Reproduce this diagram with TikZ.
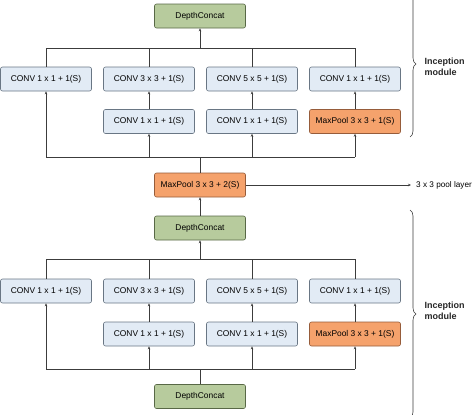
\documentclass[tikz,border=0pt]{standalone}
\usepackage{fontspec}
\setmainfont{Liberation Sans}
\usetikzlibrary{arrows.meta,decorations.pathreplacing}
\definecolor{convfill}{RGB}{226,235,245}
\definecolor{convdraw}{RGB}{105,118,132}
\definecolor{dcfill}{RGB}{183,203,157}
\definecolor{dcdraw}{RGB}{88,104,70}
\definecolor{mpfill}{RGB}{245,162,108}
\definecolor{mpdraw}{RGB}{150,92,58}
\definecolor{ln}{RGB}{60,60,60}
\tikzset{
  box/.style={rounded corners=2pt, minimum width=91pt, minimum height=24pt, inner sep=0pt, font=\fontsize{8.4}{10}\selectfont, line width=0.6pt},
  conv/.style={box, fill=convfill, draw=convdraw},
  dc/.style={box, fill=dcfill, draw=dcdraw},
  mp/.style={box, fill=mpfill, draw=mpdraw},
  wire/.style={draw=ln, line width=0.6pt},
  arr/.style={wire, -{Stealth[length=3pt,width=2.5pt]}},
  lbl/.style={font=\fontsize{9}{11}\selectfont\bfseries, align=left, anchor=west, text=black!85},
}
\begin{document}
\begin{tikzpicture}[x=1pt,y=-1pt]
\useasboundingbox (0,0) rectangle (474,415);
% ---------- upper module ----------
\node[dc] (dcT) at (200,16) {DepthConcat};
\node[conv] (a1) at (46,79) {CONV 1 x 1 + 1(S)};
\node[conv] (a2) at (149,79) {CONV 3 x 3 + 1(S)};
\node[conv] (a3) at (252,79) {CONV 5 x 5 + 1(S)};
\node[conv] (a4) at (355,79) {CONV 1 x 1 + 1(S)};
\node[conv] (b2) at (149,121.5) {CONV 1 x 1 + 1(S)};
\node[conv] (b3) at (252,121.5) {CONV 1 x 1 + 1(S)};
\node[mp] (b4) at (355,121.5) {MaxPool 3 x 3 + 1(S)};
\coordinate (tl) at (200,48);
\coordinate (bl) at (200,157);
% ---------- middle ----------
\node[mp] (mpM) at (200,185) {MaxPool 3 x 3 + 2(S)};
\node[anchor=west, inner sep=0pt, font=\fontsize{8.2}{10}\selectfont] (pool) at (416,185) {3 x 3 pool layer};
% ---------- lower module ----------
\node[dc] (dcM) at (200,228) {DepthConcat};
\node[conv] (c1) at (46,291) {CONV 1 x 1 + 1(S)};
\node[conv] (c2) at (149,291) {CONV 3 x 3 + 1(S)};
\node[conv] (c3) at (252,291) {CONV 5 x 5 + 1(S)};
\node[conv] (c4) at (355,291) {CONV 1 x 1 + 1(S)};
\node[conv] (d2) at (149,334) {CONV 1 x 1 + 1(S)};
\node[conv] (d3) at (252,334) {CONV 1 x 1 + 1(S)};
\node[mp] (d4) at (355,334) {MaxPool 3 x 3 + 1(S)};
\node[dc] (dcB) at (200,396.5) {DepthConcat};
\coordinate (tl2) at (200,259);
\coordinate (bl2) at (200,369);
% ---------- upper wiring ----------
\draw[wire] (a1.north) |- (tl -| a4.north) -- (a4.north);
\draw[wire] (a2.north) -- (a2.north |- tl);
\draw[wire] (a3.north) -- (a3.north |- tl);
\draw[arr] (tl) -- (dcT.south);
\draw[wire] (mpM.north) -- (bl);
\draw[wire] (bl -| a1.south) -- (bl -| b4.south);
\draw[arr] (bl -| a1.south) -- (a1.south);
\draw[arr] (bl -| b2.south) -- (b2.south);
\draw[arr] (bl -| b3.south) -- (b3.south);
\draw[arr] (bl -| b4.south) -- (b4.south);
\draw[arr] (b2.north) -- (a2.south);
\draw[arr] (b3.north) -- (a3.south);
\draw[arr] (b4.north) -- (a4.south);
% ---------- middle wiring ----------
\draw[arr] (dcM.north) -- (mpM.south);
\draw[arr] (mpM.east) -- ([xshift=-5pt]pool.west);
% ---------- lower wiring ----------
\draw[wire] (c1.north) |- (tl2 -| c4.north) -- (c4.north);
\draw[wire] (c2.north) -- (c2.north |- tl2);
\draw[wire] (c3.north) -- (c3.north |- tl2);
\draw[arr] (tl2) -- (dcM.south);
\draw[wire] (dcB.north) -- (bl2);
\draw[wire] (bl2 -| c1.south) -- (bl2 -| d4.south);
\draw[arr] (bl2 -| c1.south) -- (c1.south);
\draw[arr] (bl2 -| d2.south) -- (d2.south);
\draw[arr] (bl2 -| d3.south) -- (d3.south);
\draw[arr] (bl2 -| d4.south) -- (d4.south);
\draw[arr] (d2.north) -- (c2.south);
\draw[arr] (d3.north) -- (c3.south);
\draw[arr] (d4.north) -- (c4.south);
% ---------- braces ----------
\coordinate (br1a) at (410,-9);
\coordinate (br1b) at (410,137);
\coordinate (br2a) at (410,210);
\coordinate (br2b) at (410,418);
\draw[draw=ln, line width=0.6pt, decorate, decoration={brace, amplitude=6pt}] (br1a) -- (br1b);
\draw[draw=ln, line width=0.6pt, decorate, decoration={brace, amplitude=6pt}] (br2a) -- (br2b);
\node[lbl] (m1) at (421,67) {Inception\\module};
\node[lbl] (m2) at (421,311) {Inception\\module};
\end{tikzpicture}
\end{document}
